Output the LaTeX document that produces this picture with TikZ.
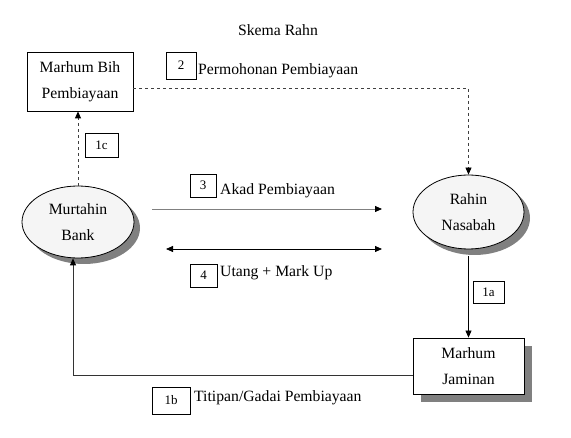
\documentclass[tikz,border=0pt]{standalone}
\usepackage{fontspec}
\setmainfont{Liberation Serif}
\usetikzlibrary{arrows.meta,shadows,shapes.geometric}
\begin{document}
\begin{tikzpicture}[x=1pt,y=-1pt,
  txt/.style={font=\fontsize{15.7}{26}\selectfont, align=center, inner sep=0pt},
  lbl/.style={font=\fontsize{15.7}{18}\selectfont, anchor=west, inner sep=0pt},
  numbox/.style={draw, line width=0.8pt, font=\fontsize{13}{15}\selectfont, inner sep=0pt},
  ell/.style={ellipse, draw, line width=0.8pt, fill=gray!8, font=\fontsize{15.7}{26}\selectfont, align=center, inner sep=0pt,
     drop shadow={shadow xshift=6pt, shadow yshift=-6pt, fill=gray, opacity=1}},
  rbox/.style={rectangle, draw, line width=0.8pt, fill=white, font=\fontsize{15.7}{26}\selectfont, align=center, inner sep=0pt},
  tip/.style={-{Triangle[length=7pt,width=6pt,color=black]}},
  conn/.style={line width=0.8pt},
]
\path[use as bounding box] (0,0) rectangle (571,438);

\node[txt] (title) at (278,30) {Skema Rahn};

\node[rbox, minimum width=106pt, minimum height=59pt] (mbp) at (80,81.5) {Marhum Bih\\Pembiayaan};
\node[ell, minimum width=112pt, minimum height=72pt] (murtahin) at (78,222) {Murtahin\\Bank};
\node[ell, minimum width=111pt, minimum height=74pt] (rahin) at (468.5,212) {Rahin\\Nasabah};
\node[rbox, minimum width=111pt, minimum height=56pt,
  drop shadow={shadow xshift=8pt, shadow yshift=-8pt, fill=gray, opacity=1}] (mj) at (468.5,366) {Marhum\\Jaminan};

% labels
\node[numbox, minimum width=30pt, minimum height=27pt] (n2) at (181,65.5) {2};
\node[lbl] (t2) at (198,71) {Permohonan Pembiayaan};
\node[numbox, minimum width=33pt, minimum height=24pt] (n1c) at (101.5,145) {1c};
\node[numbox, minimum width=26pt, minimum height=23pt] (n3) at (203,185.5) {3};
\node[lbl] (t3) at (220,191) {Akad Pembiayaan};
\node[numbox, minimum width=27pt, minimum height=23pt] (n4) at (203.5,275.5) {4};
\node[lbl] (t4) at (220,273) {Utang + Mark Up};
\node[numbox, minimum width=31pt, minimum height=22pt] (n1a) at (488.5,292) {1a};
\node[numbox, minimum width=38pt, minimum height=27pt] (n1b) at (171,400.5) {1b};
\node[lbl] (t1b) at (194,398) {Titipan/Gadai Pembiayaan};

% connectors
\coordinate (a3s) at (152,209);
\coordinate (a3e) at (382,209);
\coordinate (a4s) at (166,249);
\coordinate (a4e) at (382,249);

\draw[conn, dashed, draw=black!75, tip] ([yshift=-6.5pt]mbp.east) -| (rahin.north);
\draw[conn, dashed, draw=black!75, tip] (murtahin.north) -- (murtahin.north |- mbp.south);
\draw[conn, draw=gray, tip] (a3s) -- (a3e);
\draw[conn, {Triangle[length=7pt,width=6pt]}-{Triangle[length=7pt,width=6pt]}] (a4s) -- (a4e);
\draw[conn, tip] ([yshift=-7pt]rahin.south) -- (mj.north);
\draw[conn, draw=black!80, tip] ([yshift=-9pt]mj.west) -| ([xshift=-5pt]murtahin.south);
\end{tikzpicture}
\end{document}
